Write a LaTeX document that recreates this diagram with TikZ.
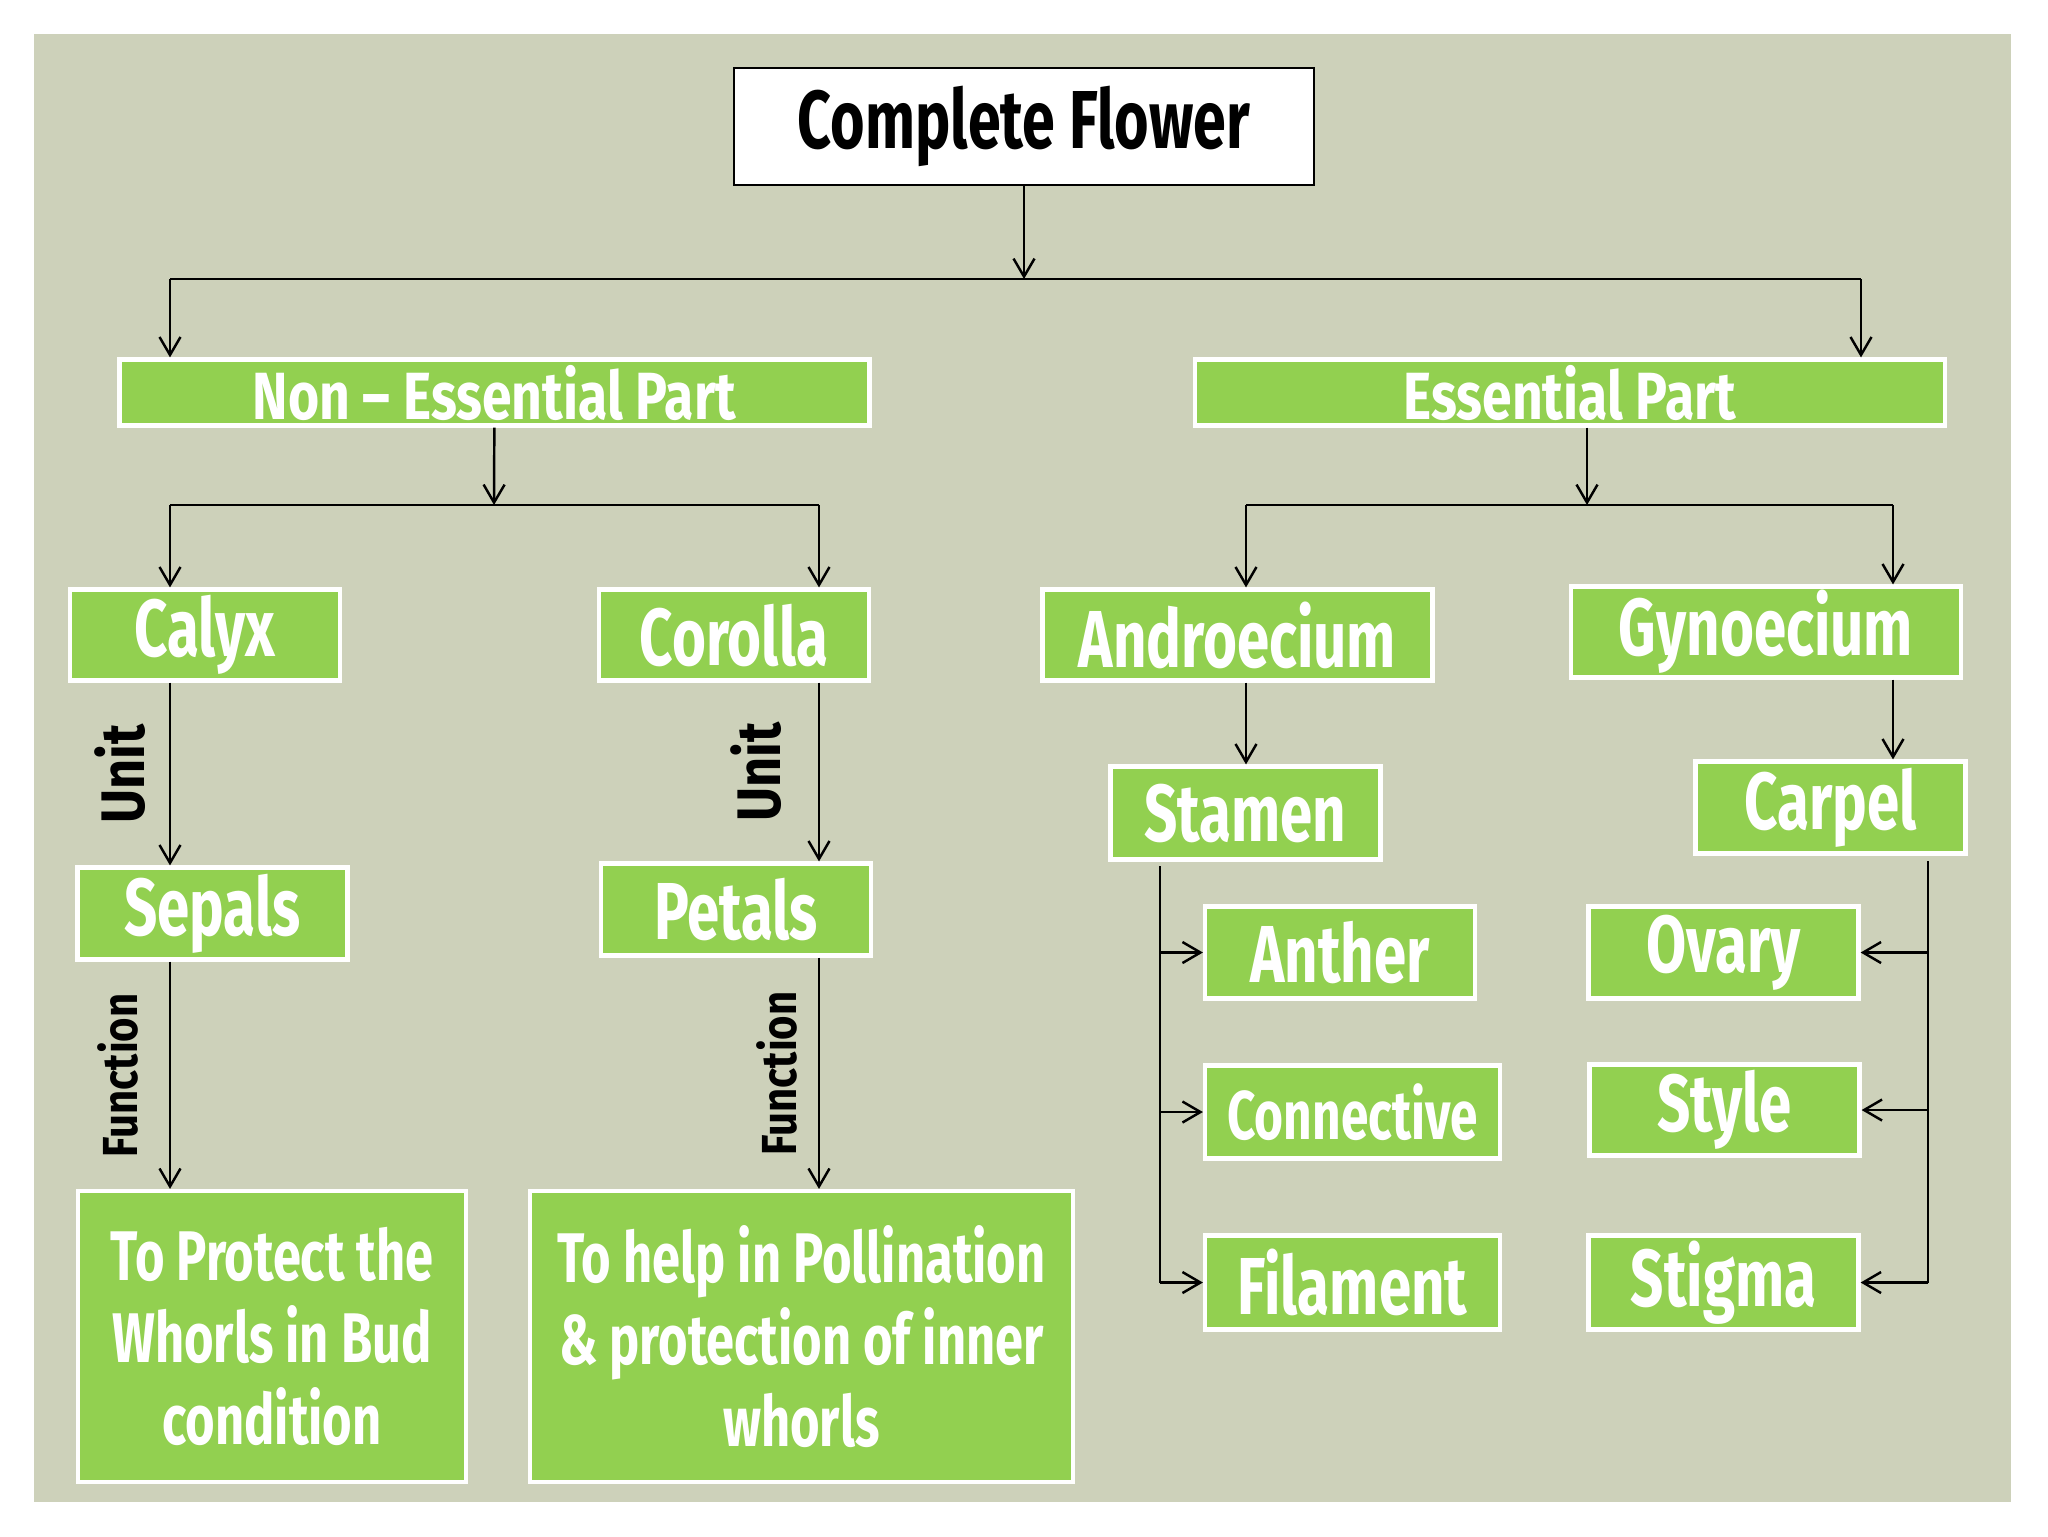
\documentclass[tikz,border=0pt]{standalone}
\usepackage{fontspec}
\usepackage{tikz}
\usetikzlibrary{arrows.meta}
\newfontfamily\hand[FakeStretch=0.72]{Fira Sans}
\newfontfamily\handb[FakeStretch=0.8]{Fira Sans}
\newfontfamily\handl[FakeStretch=0.85]{Fira Sans}
\definecolor{bgx}{HTML}{CDD1BA}
\definecolor{leafx}{HTML}{92D050}
\tikzset{
  ar/.style={-{Straight Barb[length=1.8mm,width=2.1mm]},line width=0.7pt,black},
  ln/.style={line width=0.7pt,black},
  box/.style={draw=white,line width=1.2pt,fill=leafx,text=white,inner sep=0pt,align=center,
    font=\hand\bfseries\fontsize{23}{27}\selectfont},
  partbox/.style={box,font=\handb\bfseries\fontsize{19}{23}\selectfont},
  fnbox/.style={box,font=\hand\bfseries\fontsize{20}{23.3}\selectfont},
  rootbox/.style={draw=black,line width=0.7pt,fill=white,inner sep=0pt,
    font=\hand\bfseries\fontsize{23.4}{27}\selectfont},
  unitlbl/.style={font=\handl\bfseries\fontsize{17.5}{20}\selectfont,rotate=90,anchor=south,inner sep=3pt},
  fnlbl/.style={font=\handl\bfseries\fontsize{14}{16}\selectfont,rotate=90,anchor=south,inner sep=3pt}
}
\begin{document}
\begin{tikzpicture}[x=0.1mm,y=-0.1mm]
\useasboundingbox (0,0) rectangle (2048,1536);
\fill[bgx] (34,34) rectangle (2011,1502);
% boxes
\node[rootbox,minimum width=58mm,minimum height=11.7mm] (root) at (1024,126.5) {Complete Flower};
\node[partbox,minimum width=75mm,minimum height=6.6mm] (nep) at (494.5,392.5) {Non – Essential Part};
\node[partbox,minimum width=75mm,minimum height=6.6mm] (ep) at (1570,392.5) {Essential Part};
\node[box,minimum width=27mm,minimum height=9.1mm] (calyx) at (205,635) {Calyx};
\node[box,minimum width=27mm,minimum height=9.1mm] (corolla) at (734,635) {Corolla};
\node[box,minimum width=39mm,minimum height=9.1mm] (andro) at (1237.5,635) {Androecium};
\node[box,minimum width=39mm,minimum height=9.1mm] (gyno) at (1766,632) {Gynoecium};
\node[box,minimum width=27mm,minimum height=9.2mm] (sepals) at (212.5,913.5) {Sepals};
\node[box,minimum width=27mm,minimum height=9.2mm] (petals) at (736,909.5) {Petals};
\node[fnbox,minimum width=38.8mm,minimum height=29.1mm] (fn1) at (272,1336.5)
  {To Protect the\\Whorls in Bud\\condition};
\node[fnbox,minimum width=54.3mm,minimum height=29.1mm] (fn2) at (801.5,1336.5)
  {To help in Pollination\\\& protection of inner\\whorls};
\node[box,minimum width=27mm,minimum height=9.3mm] (stamen) at (1245.5,813) {Stamen};
\node[box,minimum width=27mm,minimum height=9.2mm] (carpel) at (1830.5,807.5) {Carpel};
\node[box,minimum width=27mm,minimum height=9.2mm] (anther) at (1340,952.5) {Anther};
\node[box,minimum width=29.5mm,minimum height=9.3mm,font=\hand\bfseries\fontsize{19.6}{24}\selectfont]
  (conn) at (1352.5,1112) {Connective};
\node[box,minimum width=29.5mm,minimum height=9.4mm] (fil) at (1352.5,1282.5) {Filament};
\node[box,minimum width=27mm,minimum height=9.2mm] (ovary) at (1723.5,952.5) {Ovary};
\node[box,minimum width=27mm,minimum height=9.1mm] (styl) at (1724.5,1110) {Style};
\node[box,minimum width=27mm,minimum height=9.4mm] (stigma) at (1723.5,1282.5) {Stigma};
% bus points
\coordinate (j0) at (1024,279);
\coordinate (j0l) at (170,279);
\coordinate (j0r) at (1861,279);
\coordinate (j1) at (494,505);
\coordinate (j1l) at (170,505);
\coordinate (j1r) at (819,505);
\coordinate (j2) at (1587,505);
\coordinate (j2l) at (1246,505);
\coordinate (j2r) at (1893,505);
\coordinate (s0) at (1160,866);
\coordinate (c0) at (1928,861);
% top level
\draw[ar] (root) -- (j0);
\draw[ln] (j0l) -- (j0r);
\draw[ar] (j0l) -- (j0l |- nep.north);
\draw[ar] (j0r) -- (j0r |- ep.north);
% non-essential branch
\draw[ar] (nep) -- (j1);
\draw[ln] (j1l) -- (j1r);
\draw[ar] (j1l) -- (j1l |- calyx.north);
\draw[ar] (j1r) -- (j1r |- corolla.north);
\draw[ar] (j1l |- calyx.south) -- (j1l |- sepals.north) node[unitlbl,midway,yshift=1.3mm] {Unit};
\draw[ar] (j1l |- sepals.south) -- (j1l |- fn1.north) node[fnlbl,midway,yshift=2mm] {Function};
\draw[ar] (j1r |- corolla.south) -- (j1r |- petals.north) node[unitlbl,midway,yshift=2.6mm] {Unit};
\draw[ar] (j1r |- petals.south) -- (j1r |- fn2.north) node[fnlbl,midway,yshift=1mm] {Function};
% essential branch
\draw[ar] (j2 |- ep.south) -- (j2);
\draw[ln] (j2l) -- (j2r);
\draw[ar] (j2l) -- (j2l |- andro.north);
\draw[ar] (j2r) -- (j2r |- gyno.north);
\draw[ar] (j2l |- andro.south) -- (j2l |- stamen.north);
\draw[ar] (j2r |- gyno.south) -- (j2r |- carpel.north);
\draw[ln] (s0) -- (s0 |- fil);
\foreach \n in {anther,conn,fil}
  \draw[ar] (s0 |- \n) -- (\n.west);
\draw[ln] (c0) -- (c0 |- stigma);
\foreach \n in {ovary,styl,stigma}
  \draw[ar] (c0 |- \n) -- (\n.east);
\end{tikzpicture}
\end{document}
